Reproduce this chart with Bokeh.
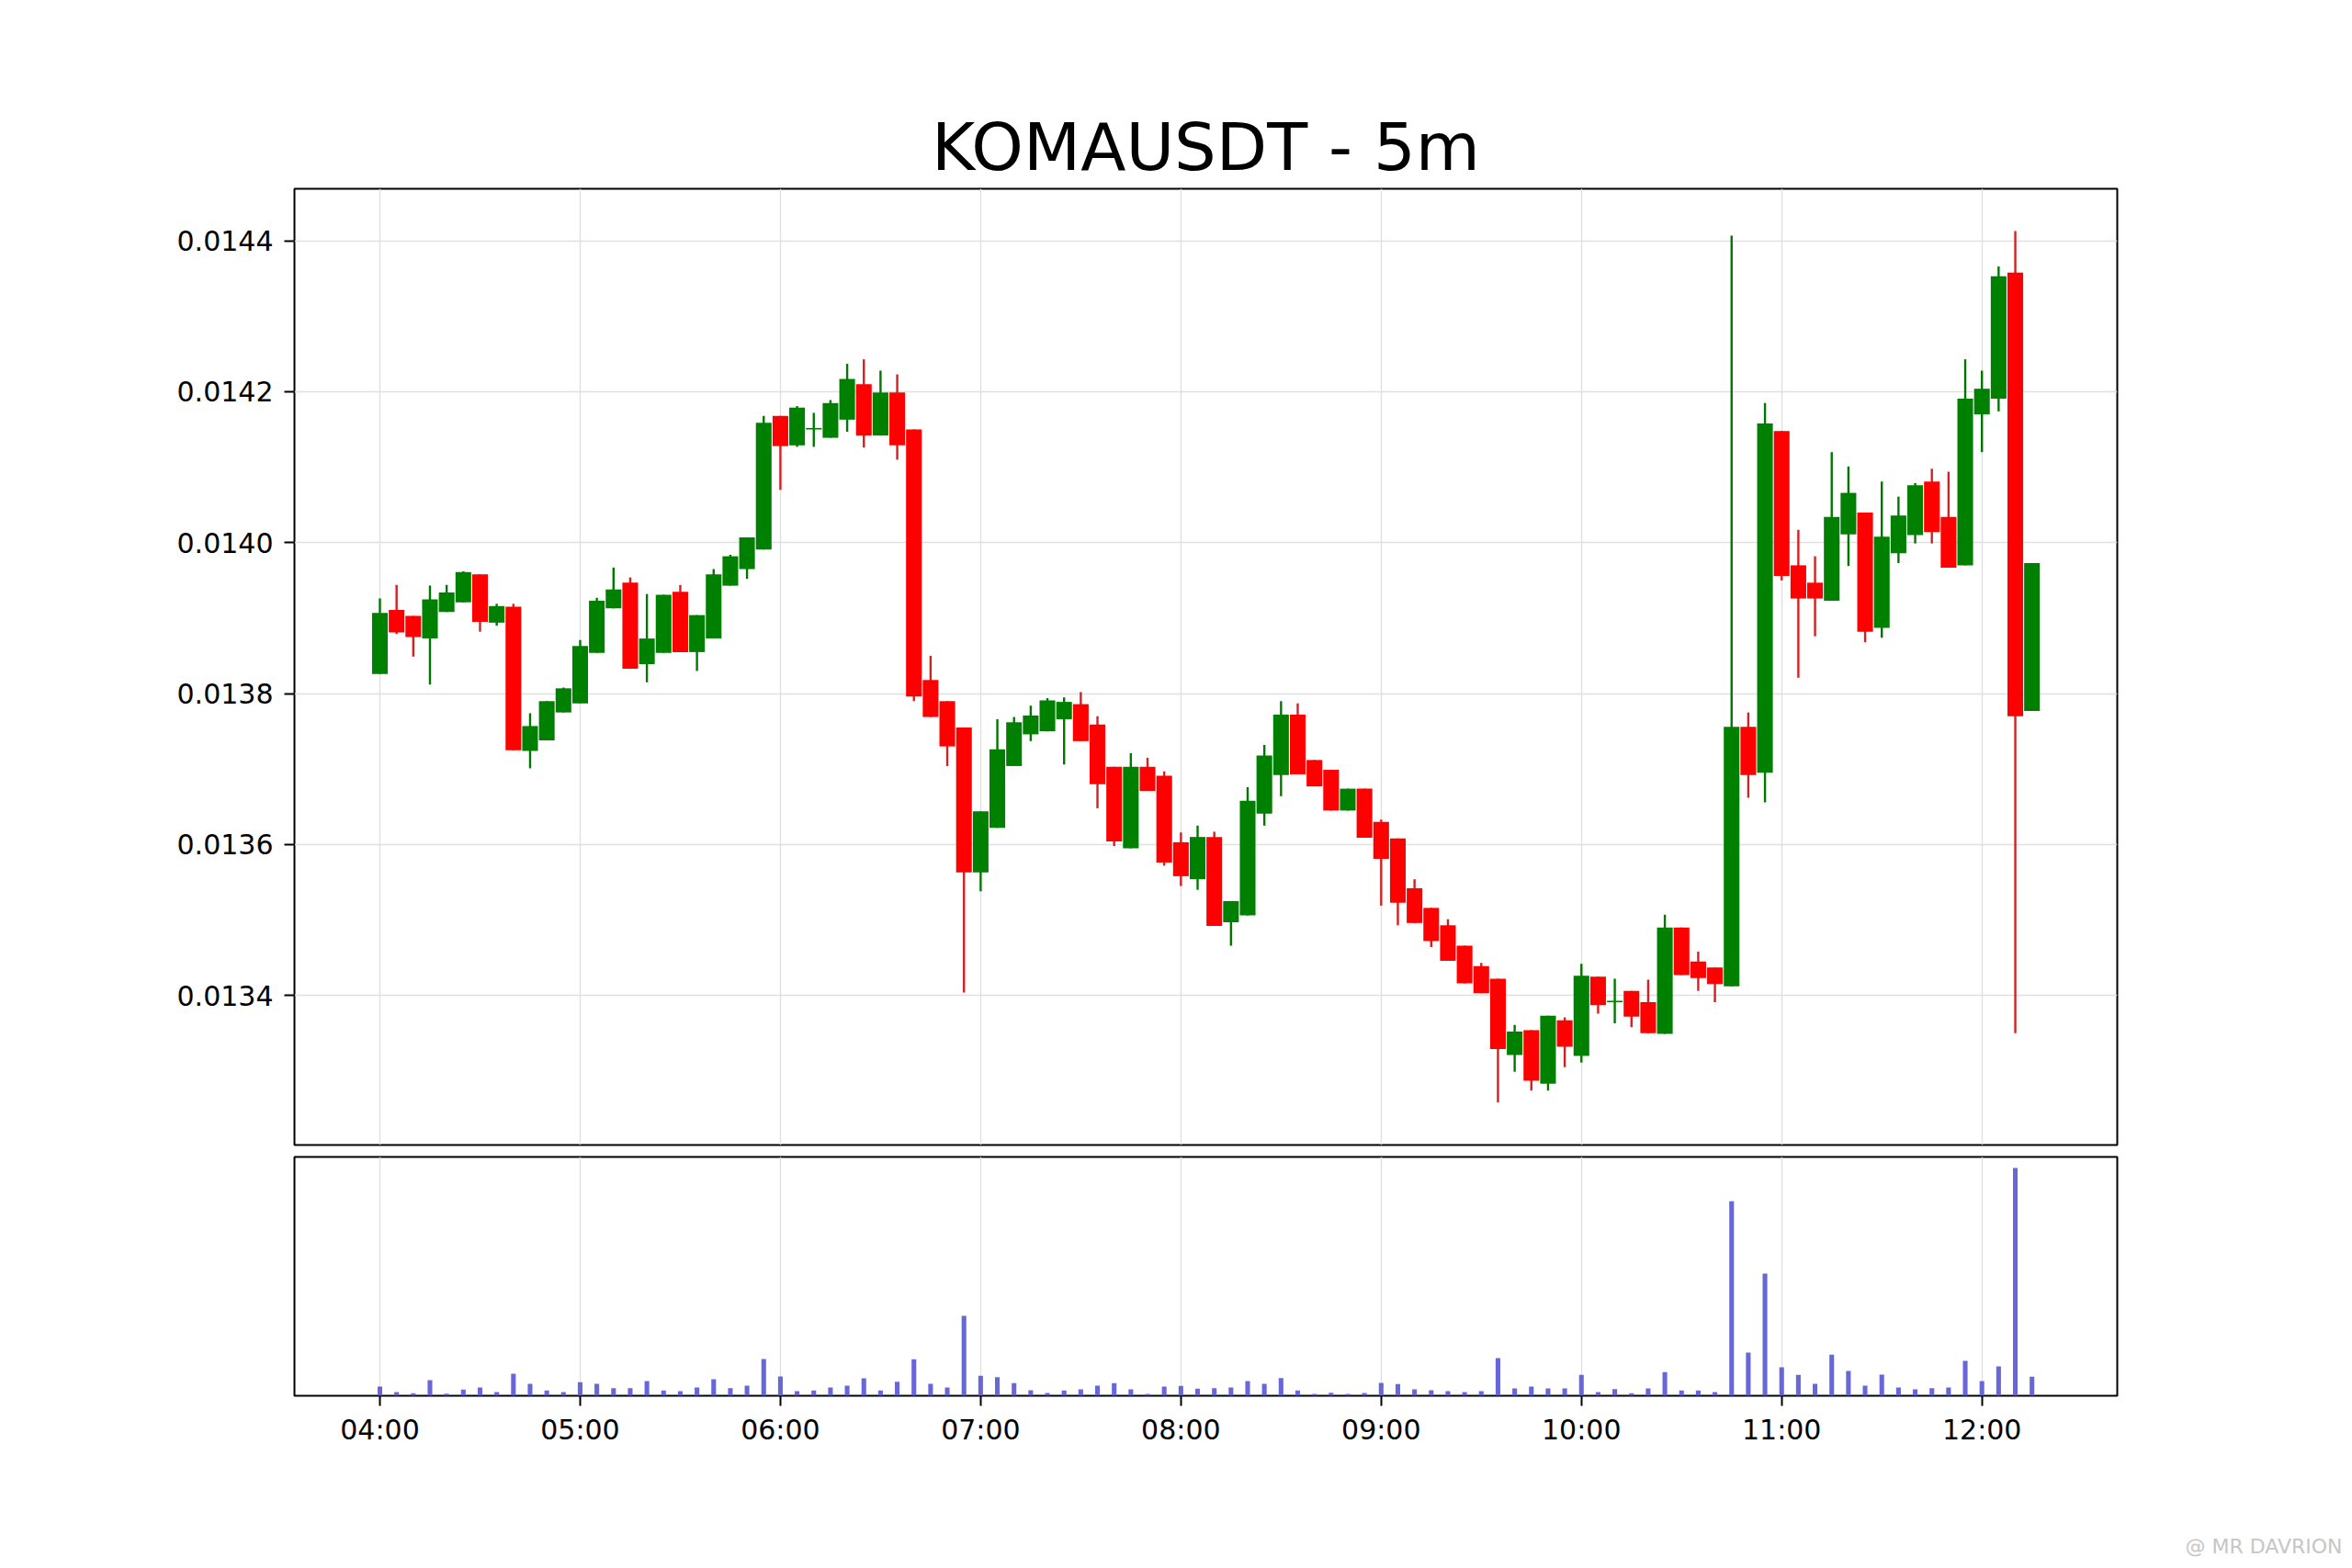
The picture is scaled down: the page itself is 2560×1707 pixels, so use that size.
from bokeh.plotting import figure
from bokeh.models import ColumnDataSource, FixedTicker, Range1d, PrintfTickFormatter
from bokeh.layouts import column
from bokeh.embed import file_html
from bokeh.resources import INLINE

title_text = "KOMAUSDT - 5m"
watermark_text = "@ MR DAVRION"
hour_labels = ["04:00", "05:00", "06:00", "07:00", "08:00", "09:00", "10:00", "11:00", "12:00"]
candles_per_hour = 12
price_ticks = [0.0134, 0.0136, 0.0138, 0.0140, 0.0142, 0.0144]

opens = [0.013826, 0.013911, 0.013903, 0.013873, 0.013908, 0.013921, 0.013958, 0.013894, 0.013915, 0.013724,
         0.013738, 0.013775, 0.013787, 0.013854, 0.013913, 0.013947, 0.013839, 0.013854, 0.013935, 0.013855,
         0.013873, 0.013943, 0.013965, 0.013991, 0.014168, 0.014129, 0.014150, 0.014139, 0.014163, 0.014210,
         0.014142, 0.014199, 0.014150, 0.013818, 0.013790, 0.013755, 0.013563, 0.013622, 0.013704, 0.013746,
         0.013750, 0.013766, 0.013786, 0.013759, 0.013703, 0.013595, 0.013703, 0.013691, 0.013603, 0.013554,
         0.013610, 0.013497, 0.013506, 0.013641, 0.013692, 0.013772, 0.013712, 0.013699, 0.013645, 0.013674,
         0.013630, 0.013608, 0.013542, 0.013516, 0.013493, 0.013466, 0.013439, 0.013422, 0.013321, 0.013354,
         0.013283, 0.013367, 0.013320, 0.013425, 0.013391, 0.013406, 0.013391, 0.013349, 0.013490, 0.013445,
         0.013437, 0.013412, 0.013756, 0.013695, 0.014148, 0.013970, 0.013947, 0.013923, 0.014011, 0.014040,
         0.013887, 0.013986, 0.014010, 0.014081, 0.014034, 0.013970, 0.014170, 0.014191, 0.014358, 0.013777]
highs = [0.013926, 0.013944, 0.013903, 0.013943, 0.013944, 0.013962, 0.013958, 0.013919, 0.013919, 0.013774,
         0.013790, 0.013808, 0.013871, 0.013927, 0.013967, 0.013954, 0.013932, 0.013931, 0.013944, 0.013904,
         0.013965, 0.013984, 0.014007, 0.014168, 0.014168, 0.014181, 0.014172, 0.014189, 0.014237, 0.014243,
         0.014228, 0.014223, 0.014150, 0.013850, 0.013790, 0.013755, 0.013644, 0.013766, 0.013769, 0.013784,
         0.013794, 0.013795, 0.013802, 0.013770, 0.013703, 0.013721, 0.013715, 0.013697, 0.013616, 0.013625,
         0.013617, 0.013525, 0.013676, 0.013732, 0.013790, 0.013787, 0.013712, 0.013699, 0.013674, 0.013674,
         0.013633, 0.013608, 0.013554, 0.013516, 0.013501, 0.013466, 0.013443, 0.013422, 0.013361, 0.013354,
         0.013373, 0.013371, 0.013442, 0.013425, 0.013422, 0.013406, 0.013421, 0.013507, 0.013490, 0.013458,
         0.013437, 0.014407, 0.013775, 0.014185, 0.014148, 0.014017, 0.013982, 0.014120, 0.014101, 0.014040,
         0.014081, 0.014061, 0.014079, 0.014098, 0.014094, 0.014243, 0.014228, 0.014366, 0.014413, 0.013973]
lows = [0.013826, 0.013879, 0.013849, 0.013812, 0.013908, 0.013921, 0.013882, 0.013890, 0.013725, 0.013701,
        0.013738, 0.013775, 0.013787, 0.013854, 0.013913, 0.013833, 0.013815, 0.013854, 0.013855, 0.013830,
        0.013873, 0.013943, 0.013952, 0.013991, 0.014070, 0.014127, 0.014127, 0.014139, 0.014147, 0.014126,
        0.014142, 0.014110, 0.013790, 0.013769, 0.013704, 0.013404, 0.013538, 0.013622, 0.013704, 0.013737,
        0.013750, 0.013706, 0.013737, 0.013648, 0.013598, 0.013595, 0.013671, 0.013572, 0.013545, 0.013540,
        0.013492, 0.013466, 0.013506, 0.013625, 0.013664, 0.013693, 0.013677, 0.013645, 0.013645, 0.013609,
        0.013519, 0.013493, 0.013496, 0.013464, 0.013446, 0.013416, 0.013403, 0.013258, 0.013299, 0.013274,
        0.013274, 0.013305, 0.013311, 0.013376, 0.013363, 0.013358, 0.013350, 0.013349, 0.013427, 0.013406,
        0.013391, 0.013412, 0.013662, 0.013656, 0.013950, 0.013821, 0.013876, 0.013923, 0.013969, 0.013868,
        0.013874, 0.013973, 0.013999, 0.013999, 0.013967, 0.013970, 0.014120, 0.014174, 0.013350, 0.013777]
closes = [0.013907, 0.013881, 0.013875, 0.013925, 0.013934, 0.013961, 0.013895, 0.013916, 0.013725, 0.013757,
          0.013790, 0.013807, 0.013863, 0.013923, 0.013938, 0.013833, 0.013873, 0.013931, 0.013855, 0.013904,
          0.013958, 0.013982, 0.014007, 0.014159, 0.014128, 0.014179, 0.014152, 0.014185, 0.014217, 0.014142,
          0.014199, 0.014129, 0.013796, 0.013769, 0.013730, 0.013563, 0.013644, 0.013726, 0.013762, 0.013771,
          0.013791, 0.013789, 0.013737, 0.013680, 0.013604, 0.013703, 0.013671, 0.013576, 0.013558, 0.013610,
          0.013492, 0.013525, 0.013658, 0.013718, 0.013772, 0.013693, 0.013677, 0.013645, 0.013674, 0.013609,
          0.013581, 0.013523, 0.013496, 0.013472, 0.013446, 0.013416, 0.013403, 0.013329, 0.013352, 0.013287,
          0.013373, 0.013332, 0.013426, 0.013387, 0.013393, 0.013372, 0.013350, 0.013490, 0.013427, 0.013423,
          0.013415, 0.013756, 0.013692, 0.014158, 0.013956, 0.013926, 0.013926, 0.014034, 0.014066, 0.013882,
          0.014008, 0.014036, 0.014076, 0.014014, 0.013967, 0.014191, 0.014204, 0.014353, 0.013770, 0.013973]
volumes = [30, 12, 8, 51, 7, 20, 27, 12, 72, 39,
           17, 12, 44, 39, 25, 25, 48, 17, 15, 27,
           54, 25, 33, 120, 63, 15, 17, 27, 33, 57,
           17, 46, 119, 39, 27, 261, 65, 61, 41, 18,
           9, 17, 21, 33, 41, 21, 6, 30, 32, 23,
           25, 27, 48, 39, 58, 17, 6, 10, 6, 9,
           42, 38, 21, 18, 15, 12, 15, 123, 24, 30,
           24, 24, 68, 12, 22, 8, 24, 77, 17, 17,
           12, 635, 141, 399, 93, 68, 39, 134, 81, 33,
           69, 27, 21, 25, 27, 114, 48, 96, 744, 62]

n = len(opens)
xs = list(range(n))
up = [c >= o for o, c in zip(opens, closes)]
src = ColumnDataSource(dict(
    x=xs,
    top=[max(o, c) for o, c in zip(opens, closes)],
    bottom=[min(o, c) for o, c in zip(opens, closes)],
    high=highs, low=lows,
    body=["#008000" if u else "#ff0000" for u in up],
    wick=["#007800" if u else "#d42020" for u in up],
    vol=volumes,
))

hour_pos = [i * candles_per_hour for i in range(len(hour_labels))]
overrides = {p: lab for p, lab in zip(hour_pos, hour_labels)}

FONT = "DejaVu Sans"
W = 2560
LEFT, RIGHT = 320, 256
x_range = Range1d(-5.12, 104.11)

p1 = figure(width=W, height=1252, x_range=x_range, y_range=Range1d(0.0132018, 0.014469),
            output_backend="svg", toolbar_location=None,
            min_border_left=LEFT, min_border_right=RIGHT, min_border_top=205, min_border_bottom=6)
p1.title.text = title_text
p1.title.text_font = FONT
p1.title.text_font_size = "72px"
p1.title.text_font_style = "normal"
p1.title.text_color = "black"
p1.title.align = "center"
p1.title.standoff = 7

p1.segment(x0="x", y0="low", x1="x", y1="high", line_color="wick", line_width=2.4, source=src)
p1.vbar(x="x", top="top", bottom="bottom", width=0.94, fill_color="body", line_color=None, source=src)

p1.xaxis.visible = False
p1.xgrid.ticker = FixedTicker(ticks=hour_pos)
p1.yaxis.ticker = FixedTicker(ticks=price_ticks)
p1.ygrid.ticker = FixedTicker(ticks=price_ticks)
p1.yaxis.formatter = PrintfTickFormatter(format="%.4f")
p1.yaxis.axis_line_color = None
p1.yaxis.major_tick_out = 11
p1.yaxis.major_tick_in = 0
p1.yaxis.major_tick_line_width = 2
p1.yaxis.minor_tick_line_color = None
p1.yaxis.major_label_standoff = 12
p1.yaxis.major_label_text_font = FONT
p1.yaxis.major_label_text_font_size = "30px"
p1.yaxis.major_label_text_color = "black"

p2 = figure(width=W, height=398, x_range=x_range, y_range=Range1d(0, 780),
            output_backend="svg", toolbar_location=None,
            min_border_left=LEFT, min_border_right=RIGHT, min_border_top=7, min_border_bottom=131)
p2.vbar(x="x", top="vol", bottom=0, width=0.28, fill_color="#6767d9", line_color=None, source=src)
p2.yaxis.visible = False
p2.ygrid.visible = False
p2.xaxis.ticker = FixedTicker(ticks=hour_pos)
p2.xgrid.ticker = FixedTicker(ticks=hour_pos)
p2.xaxis.major_label_overrides = overrides
p2.xaxis.axis_line_color = None
p2.xaxis.major_tick_out = 11
p2.xaxis.major_tick_in = 0
p2.xaxis.major_tick_line_width = 2
p2.xaxis.minor_tick_line_color = None
p2.xaxis.major_label_standoff = 8
p2.xaxis.major_label_text_font = FONT
p2.xaxis.major_label_text_font_size = "30px"
p2.xaxis.major_label_text_color = "black"

for p in (p1, p2):
    p.outline_line_color = "black"
    p.outline_line_width = 2
    p.outline_line_alpha = 1
    p.background_fill_color = "white"
    p.border_fill_color = "white"
    p.grid.grid_line_color = "#e0e0e0"
    p.grid.grid_line_width = 1.4

# bottom strip: the watermark is carried by a right-hand axis label (outside the frame, never clipped)
p3 = figure(width=W, height=57, x_range=Range1d(0, 1), y_range=Range1d(0, 57),
            output_backend="svg", toolbar_location=None,
            min_border_left=LEFT, min_border_right=RIGHT, min_border_top=0, min_border_bottom=0,
            x_axis_location=None, y_axis_location="right")
p3.grid.visible = False
p3.outline_line_color = None
p3.background_fill_color = "white"
p3.border_fill_color = "white"
p3.yaxis.ticker = FixedTicker(ticks=[24])
p3.yaxis.major_label_overrides = {24: watermark_text}
p3.yaxis.axis_line_color = None
p3.yaxis.major_tick_line_color = None
p3.yaxis.minor_tick_line_color = None
p3.yaxis.major_tick_out = 0
p3.yaxis.major_tick_in = 0
p3.yaxis.major_label_standoff = 74
p3.yaxis.major_label_text_font = FONT
p3.yaxis.major_label_text_font_size = "22px"
p3.yaxis.major_label_text_color = "#c6c6c6"

layout = column(p1, p2, p3, spacing=0)
open("out.html", "w").write(file_html(layout, INLINE))
